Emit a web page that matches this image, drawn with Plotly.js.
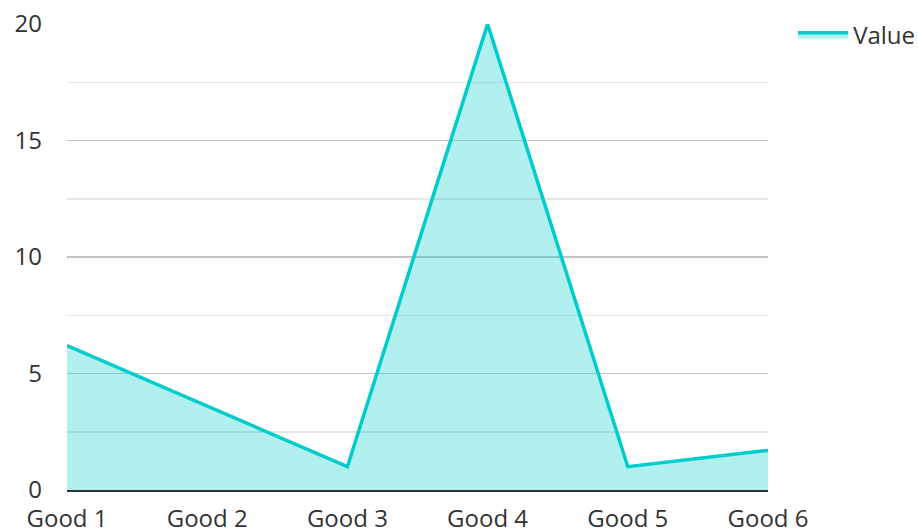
<!DOCTYPE html>
<html>
<head>
<meta charset="utf-8">
<script src="https://cdn.plot.ly/plotly-3.0.1.min.js"></script>
<style>html,body{margin:0;padding:0;background:#fff;}#chart{width:918px;height:531px;}</style>
</head>
<body>
<div id="chart"></div>
<script>
const categories = ["Good 1", "Good 2", "Good 3", "Good 4", "Good 5", "Good 6"];
const values = [6.2, 3.6, 1, 20, 1, 1.7];
const seriesName = "Value";
const yTickVals = [0, 5, 10, 15, 20];

const trace = {
  x: categories,
  y: values,
  name: seriesName,
  type: "scatter",
  mode: "lines",
  fill: "tozeroy",
  fillcolor: "rgba(0,204,204,0.3)",
  line: {color: "#00cccc", width: 3.5},
  hoverinfo: "x+y"
};

const layout = {
  width: 918,
  height: 531,
  margin: {l: 67, r: 150, t: 24, b: 41},
  paper_bgcolor: "#fff",
  plot_bgcolor: "#fff",
  font: {family: "Open Sans, Noto Sans, sans-serif", size: 24, color: "#333"},
  showlegend: true,
  legend: {xref: "container", yref: "container", x: 0.864, y: 0.976, xanchor: "left", yanchor: "top",
           itemwidth: 50, font: {size: 24, color: "#333"}},
  xaxis: {
    type: "category",
    range: [0, 5],
    showgrid: false,
    zeroline: false,
    showline: true,
    linecolor: "#333",
    linewidth: 2,
    ticks: "",
    ticklabelstandoff: 6,
    tickfont: {size: 24, color: "#333"},
    automargin: false,
    fixedrange: true
  },
  yaxis: {
    range: [0, 20],
    tickvals: yTickVals,
    showgrid: true,
    gridcolor: "#c4c4c4",
    gridwidth: 1.5,
    zeroline: false,
    showline: false,
    ticks: "",
    ticklabelstandoff: 24,
    tickfont: {size: 24, color: "#333"},
    minor: {dtick: 2.5, tick0: 0, showgrid: true, gridcolor: "#e6e6e6", gridwidth: 1.5},
    automargin: false,
    fixedrange: true
  }
};

Plotly.newPlot("chart", [trace], layout, {displayModeBar: false, staticPlot: true});
</script>
</body>
</html>
